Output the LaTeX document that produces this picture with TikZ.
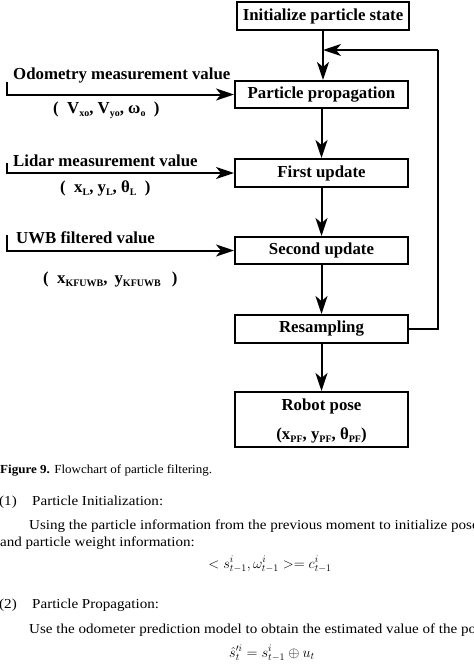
\documentclass[tikz,border=0pt]{standalone}
\usepackage{fontspec}
\setmainfont{Liberation Serif}
\newfontfamily\bodyfont[FakeStretch=1.10]{Liberation Serif}
\newfontfamily\capfont[FakeStretch=1.06]{Liberation Serif}
\usetikzlibrary{arrows.meta}
\newcommand\sbs[1]{\raisebox{-0.4ex}{\fontsize{10}{10}\selectfont #1}}
\begin{document}
\begin{tikzpicture}[x=1pt,y=-1pt,
  box/.style={draw, line width=2pt, inner sep=0pt, font=\fontsize{16.8}{19}\selectfont\bfseries},
  flow/.style={line width=2pt, -{Stealth[length=18pt,width=12pt,inset=5pt]}},
  link/.style={line width=2pt},
  lab/.style={anchor=base west, inner sep=0pt, font=\fontsize{16.8}{19}\selectfont\bfseries},
  body/.style={anchor=base west, inner sep=0pt, font=\fontsize{13.7}{16}\selectfont\bodyfont},
  captext/.style={anchor=base west, inner sep=0pt, font=\fontsize{12.3}{15}\selectfont\capfont},
  eqn/.style={anchor=base, inner sep=0pt, font=\fontsize{14.4}{16}\selectfont},
]
\useasboundingbox (0,0) rectangle (474,667);
\clip (0,0) rectangle (474,667);

% boxes
\node[box, minimum width=172pt, minimum height=28pt] (init) at (323,16) {Initialize particle state};
\node[box, minimum width=173pt, minimum height=27pt] (prop) at (321.5,94.5) {Particle propagation};
\node[box, minimum width=173pt, minimum height=28pt] (first) at (321.5,173) {First update};
\node[box, minimum width=173pt, minimum height=27pt] (second) at (321.5,250.5) {Second update};
\node[box, minimum width=173pt, minimum height=28pt] (resamp) at (321.5,329) {Resampling};
\node[box, minimum width=173pt, minimum height=55pt] (robot) at (321.5,419.5) {};
\node[lab, anchor=base] (robotT) at (321.5,410) {Robot pose};
\node[lab, anchor=base] (robotF) at (321.5,439) {(x\sbs{PF}, y\sbs{PF}, θ\sbs{PF})};

% main flow
\draw[flow] (init.south) -- (init.south |- prop.north);
\draw[flow] (prop.south) -- (prop.south |- first.north);
\draw[flow] (first.south) -- (first.south |- second.north);
\draw[flow] (second.south) -- (second.south |- resamp.north);
\draw[flow] (resamp.south) -- (resamp.south |- robot.north);

% feedback
\coordinate (fbc) at (438,50);
\coordinate (fbe) at (323,50);
\draw[link] (resamp.east) -| (fbc);
\draw[flow] (fbc) -- (fbe);

% inputs
\coordinate (odoS) at (7,82);
\coordinate (lidS) at (7,163);
\coordinate (uwbS) at (7,235);
\draw[flow] (odoS) |- (prop.west);
\draw[flow] (lidS) |- (first.west);
\draw[flow] (uwbS) |- (second.west);

\node[lab] (odoT) at (13,79) {Odometry measurement value};
\node[lab] (odoF) at (53,113) {(\,\,\,V\sbs{xo}, V\sbs{yo}, ω\sbs{o}\,\,\,)};
\node[lab] (lidT) at (13,166) {Lidar measurement value};
\node[lab] (lidF) at (60,192) {(\,\,\,x\sbs{L}, y\sbs{L}, θ\sbs{L}\,\,\,)};
\node[lab] (uwbT) at (16,243) {UWB filtered value};
\node[lab] (uwbF) at (43,283) {(\,\,\,x\sbs{KFUWB}, \,y\sbs{KFUWB}\,\,\,\,)};

% text below
\node[captext] (caption) at (0,473) {\textbf{Figure 9.} Flowchart of particle filtering.};
\node[body] (n1) at (-1,505) {(1)};
\node[body] (h1) at (32,505) {Particle Initialization:};
\node[body] (p1a) at (29,529) {Using the particle information from the previous moment to initialize pose information};
\node[body] (p1b) at (0,546) {and particle weight information:};
\node[eqn] (eq1) at (270,568) {$< s^{i}_{t-1}, \omega^{i}_{t-1} >= c^{i}_{t-1}$};
\node[body] (n2) at (-1,608) {(2)};
\node[body] (h2) at (32,608) {Particle Propagation:};
\node[body] (p2) at (29,633) {Use the odometer prediction model to obtain the estimated value of the pose};
\node[eqn] (eq2) at (272,657) {$\hat{s}^{\prime i}_{t} = s^{i}_{t-1} \oplus u_{t}$};
\end{tikzpicture}
\end{document}
